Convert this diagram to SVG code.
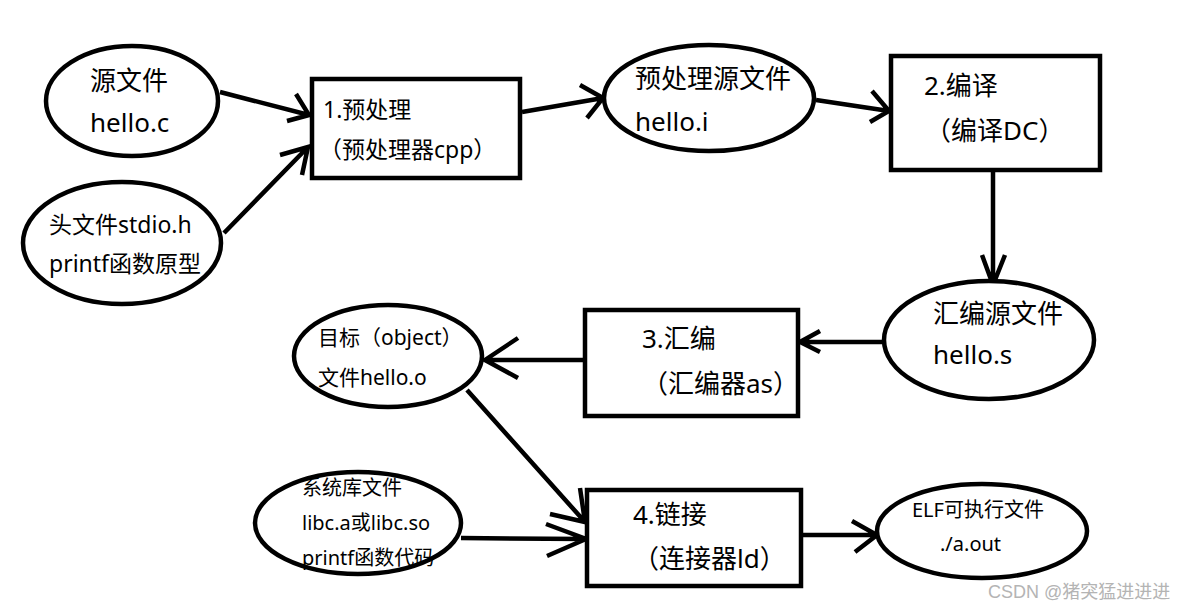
<svg xmlns="http://www.w3.org/2000/svg" width="1194" height="611" viewBox="0 0 1194 611">
<style>
.shape{fill:#fff;stroke:#000;stroke-width:4.5}
.t{font-family:"Noto Sans","Noto Sans CJK SC",sans-serif;fill:#000}
.l{font-size:26px}
.m{font-size:23px}
.o{font-size:21px}
.s{font-size:20px}
.c{fill:none;stroke:#000;stroke-width:4.5;stroke-linecap:butt;stroke-linejoin:miter}
.wm{font-family:"Liberation Sans","Noto Sans CJK SC",sans-serif;font-size:18px;fill:#b4b4b4}
</style>
<rect width="1194" height="611" fill="#fff"/>
<g id="connectors">
<path class="c" d="M220,92 L309,115 M296,94 L309,115 L287,121"/>
<path class="c" d="M224,233 L308,147 M280,155 L308,147 L302,175"/>
<path class="c" d="M522,112 L603,98 M580,85 L603,98 L587,118"/>
<path class="c" d="M816,100 L889,111 M872,91 L889,111 L870,122"/>
<path class="c" d="M993,172 L993,285 M982,255 L993,285 L1005,255"/>
<path class="c" d="M883,342 L800,342 M820,331 L800,342 L820,352"/>
<path class="c" d="M583,360 L485,360 M518,338 L485,360 L518,378"/>
<path class="c" d="M467,390 L585,522 M580,488 L585,522 L550,514"/>
<path class="c" d="M461,538 L586,539 M546,524 L586,539 L547,556"/>
<path class="c" d="M803,535 L877,535 M852,521 L877,535 L855,552"/>
</g>
<g id="src">
<ellipse class="shape" cx="132" cy="101" rx="86" ry="55"/>
<text class="t l" x="90" y="90">源文件</text>
<text class="t l" x="90" y="132">hello.c</text>
</g>
<g id="header">
<ellipse class="shape" cx="122" cy="243" rx="99" ry="61"/>
<text class="t m" x="49" y="233">头文件stdio.h</text>
<text class="t m" x="49" y="272">printf函数原型</text>
</g>
<g id="preprocess">
<rect class="shape" x="312" y="79" width="208" height="99"/>
<text class="t m" x="323" y="118">1.预处理</text>
<text class="t m" x="319" y="158">（预处理器cpp）</text>
</g>
<g id="preprocessed">
<ellipse class="shape" cx="709" cy="98" rx="105" ry="53"/>
<text class="t l" x="635" y="88">预处理源文件</text>
<text class="t l" x="635" y="131">hello.i</text>
</g>
<g id="compile">
<rect class="shape" x="891" y="56" width="209" height="114"/>
<text class="t l" x="924" y="95">2.编译</text>
<text class="t l" x="925" y="140">（编译DC）</text>
</g>
<g id="asmsrc">
<ellipse class="shape" cx="989" cy="340" rx="105" ry="59"/>
<text class="t l" x="933" y="323">汇编源文件</text>
<text class="t l" x="933" y="364">hello.s</text>
</g>
<g id="assemble">
<rect class="shape" x="585" y="310" width="213" height="106"/>
<text class="t l" x="642" y="348">3.汇编</text>
<text class="t l" x="642" y="393">（汇编器as）</text>
</g>
<g id="object">
<ellipse class="shape" cx="388" cy="356" rx="94" ry="51"/>
<text class="t o" x="318" y="345">目标（object）</text>
<text class="t o" x="318" y="385">文件hello.o</text>
</g>
<g id="syslib">
<ellipse class="shape" cx="358" cy="523" rx="103" ry="51"/>
<text class="t s" x="302" y="495">系统库文件</text>
<text class="t s" x="302" y="530">libc.a或libc.so</text>
<text class="t s" x="302" y="565">printf函数代码</text>
</g>
<g id="link">
<rect class="shape" x="587" y="490" width="214" height="96"/>
<text class="t l" x="633" y="524">4.链接</text>
<text class="t l" x="633" y="568">（连接器ld）</text>
</g>
<g id="elf">
<ellipse class="shape" cx="982" cy="531" rx="105" ry="47"/>
<text class="t s" x="912" y="517">ELF可执行文件</text>
<text class="t s" x="940" y="551">./a.out</text>
</g>
<text class="wm" x="988" y="598">CSDN @猪突猛进进进</text>
</svg>
